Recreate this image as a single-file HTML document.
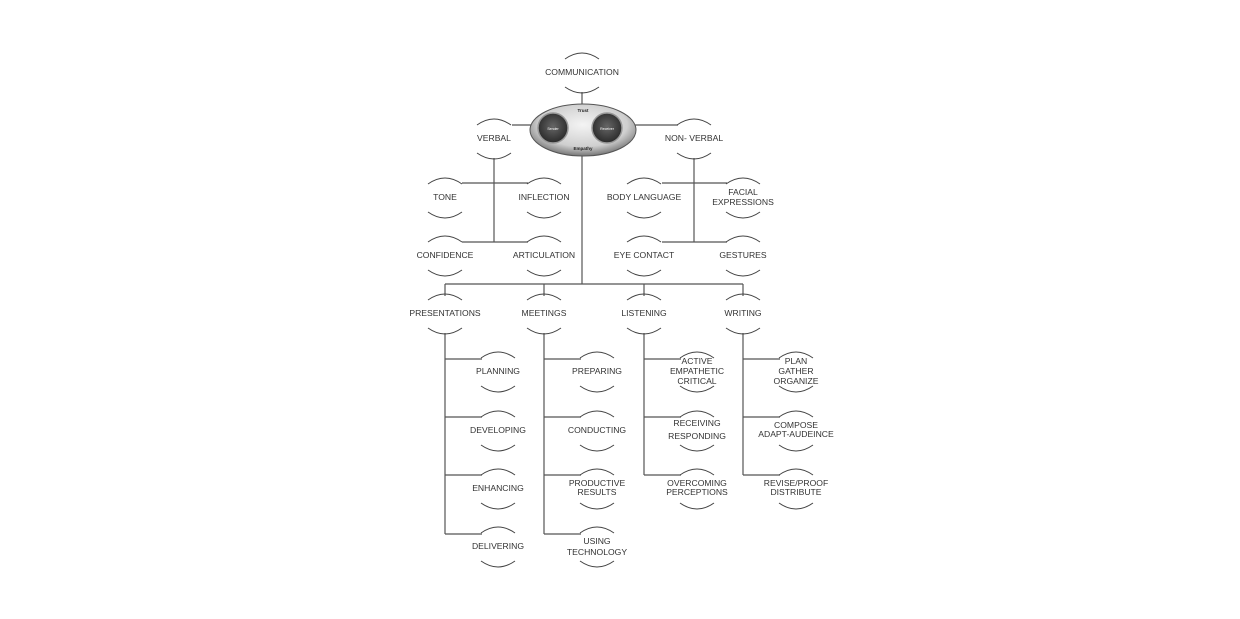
<!DOCTYPE html>
<html><head><meta charset="utf-8"><style>
html,body{margin:0;padding:0;background:#fff}
svg{display:block}
text{font-family:"Liberation Sans",sans-serif;font-size:8.6px;fill:#333;text-anchor:middle}
</style></head><body>
<svg width="1240" height="619" viewBox="0 0 1240 619" xmlns="http://www.w3.org/2000/svg">
<defs>
<radialGradient id="eg" cx="50%" cy="40%" r="60%"><stop offset="0" stop-color="#f4f4f4"/><stop offset="0.7" stop-color="#cfcfcf"/><stop offset="1" stop-color="#777"/></radialGradient>
<radialGradient id="cg" cx="50%" cy="45%" r="55%"><stop offset="0" stop-color="#666"/><stop offset="1" stop-color="#2a2a2a"/></radialGradient>
<g id="n"><path d="M-17,-13 Q0,-25 17,-13" fill="none" stroke="#444" stroke-width="1"/><path d="M-17,15 Q0,27 17,15" fill="none" stroke="#444" stroke-width="1"/></g>
</defs>
<g stroke="#555" stroke-width="1.2" fill="none">
<line x1="582" y1="92" x2="582" y2="104"/>
<line x1="512" y1="125" x2="531" y2="125"/>
<line x1="635" y1="125" x2="678" y2="125"/>
<line x1="494" y1="158" x2="494" y2="242"/>
<line x1="462" y1="183" x2="528" y2="183"/>
<line x1="462" y1="242" x2="528" y2="242"/>
<line x1="694" y1="158" x2="694" y2="242"/>
<line x1="662" y1="183" x2="727" y2="183"/>
<line x1="662" y1="242" x2="727" y2="242"/>
<line x1="582" y1="156" x2="582" y2="284"/>
<line x1="445" y1="284" x2="743" y2="284"/>
<line x1="445" y1="284" x2="445" y2="296"/>
<line x1="544" y1="284" x2="544" y2="296"/>
<line x1="644" y1="284" x2="644" y2="296"/>
<line x1="743" y1="284" x2="743" y2="296"/>
<line x1="445" y1="333" x2="445" y2="534"/>
<line x1="544" y1="333" x2="544" y2="534"/>
<line x1="644" y1="333" x2="644" y2="475"/>
<line x1="743" y1="333" x2="743" y2="475"/>
<path d="M445,359H482M445,417H482M445,475H482M445,534H482"/>
<path d="M544,359H581M544,417H581M544,475H581M544,534H581"/>
<path d="M644,359H681M644,417H681M644,475H681"/>
<path d="M743,359H780M743,417H780M743,475H780"/>
</g>
<ellipse cx="583" cy="130" rx="53" ry="26" fill="url(#eg)" stroke="#555" stroke-width="1"/>
<circle cx="553" cy="128" r="15" fill="url(#cg)" stroke="#999" stroke-width="1.5"/>
<circle cx="607" cy="128" r="15" fill="url(#cg)" stroke="#999" stroke-width="1.5"/>
<text x="583" y="112" style="font-size:4.5px;font-weight:bold;fill:#222">Trust</text>
<text x="583" y="150" style="font-size:4.5px;font-weight:bold;fill:#222">Empathy</text>
<text x="553" y="130" style="font-size:3.5px;fill:#fff">Sender</text>
<text x="607" y="130" style="font-size:3.5px;fill:#fff">Receiver</text>
<g>
<use href="#n" x="582" y="72"/><text x="582" y="75">COMMUNICATION</text>
<use href="#n" x="494" y="138"/><text x="494" y="141">VERBAL</text>
<use href="#n" x="694" y="138"/><text x="694" y="141">NON- VERBAL</text>
<use href="#n" x="445" y="197"/><text x="445" y="200">TONE</text>
<use href="#n" x="544" y="197"/><text x="544" y="200">INFLECTION</text>
<use href="#n" x="644" y="197"/><text x="644" y="200">BODY LANGUAGE</text>
<use href="#n" x="743" y="197"/><text x="743" y="195">FACIAL</text><text x="743" y="205">EXPRESSIONS</text>
<use href="#n" x="445" y="255"/><text x="445" y="258">CONFIDENCE</text>
<use href="#n" x="544" y="255"/><text x="544" y="258">ARTICULATION</text>
<use href="#n" x="644" y="255"/><text x="644" y="258">EYE CONTACT</text>
<use href="#n" x="743" y="255"/><text x="743" y="258">GESTURES</text>
<use href="#n" x="445" y="313"/><text x="445" y="316">PRESENTATIONS</text>
<use href="#n" x="544" y="313"/><text x="544" y="316">MEETINGS</text>
<use href="#n" x="644" y="313"/><text x="644" y="316">LISTENING</text>
<use href="#n" x="743" y="313"/><text x="743" y="316">WRITING</text>
<use href="#n" x="498" y="371"/><text x="498" y="374">PLANNING</text>
<use href="#n" x="498" y="430"/><text x="498" y="433">DEVELOPING</text>
<use href="#n" x="498" y="488"/><text x="498" y="491">ENHANCING</text>
<use href="#n" x="498" y="546"/><text x="498" y="549">DELIVERING</text>
<use href="#n" x="597" y="371"/><text x="597" y="374">PREPARING</text>
<use href="#n" x="597" y="430"/><text x="597" y="433">CONDUCTING</text>
<use href="#n" x="597" y="488"/><text x="597" y="486">PRODUCTIVE</text><text x="597" y="495">RESULTS</text>
<use href="#n" x="597" y="546"/><text x="597" y="544">USING</text><text x="597" y="555">TECHNOLOGY</text>
<use href="#n" x="697" y="371"/><text x="697" y="364">ACTIVE</text><text x="697" y="374">EMPATHETIC</text><text x="697" y="384">CRITICAL</text>
<use href="#n" x="697" y="430"/><text x="697" y="426">RECEIVING</text><text x="697" y="439">RESPONDING</text>
<use href="#n" x="697" y="488"/><text x="697" y="486">OVERCOMING</text><text x="697" y="495">PERCEPTIONS</text>
<use href="#n" x="796" y="371"/><text x="796" y="364">PLAN</text><text x="796" y="374">GATHER</text><text x="796" y="384">ORGANIZE</text>
<use href="#n" x="796" y="430"/><text x="796" y="428">COMPOSE</text><text x="796" y="437">ADAPT-AUDEINCE</text>
<use href="#n" x="796" y="488"/><text x="796" y="486">REVISE/PROOF</text><text x="796" y="495">DISTRIBUTE</text>
</g>
</svg>
</body></html>
